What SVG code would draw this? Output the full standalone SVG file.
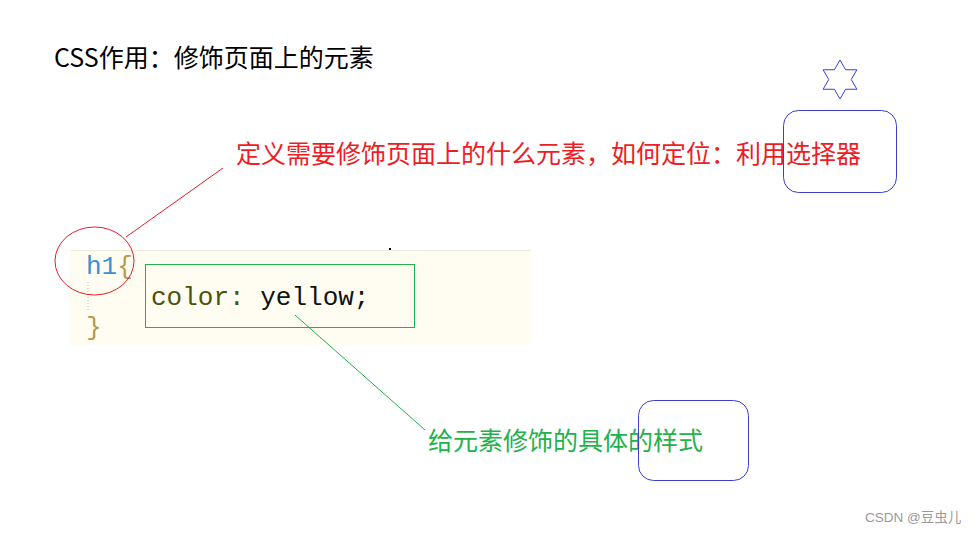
<svg xmlns="http://www.w3.org/2000/svg" width="979" height="534" viewBox="0 0 979 534">
<style>
.cjk{font-family:"Noto Sans CJK SC","Noto Sans",sans-serif}
.mono{font-family:"Liberation Mono","Courier New",monospace;font-size:26px}
.blue{fill:none;stroke:#3a3fd0;stroke-width:1}
</style>
<rect width="979" height="534" fill="#ffffff"/>
<text class="cjk" x="54" y="67" font-size="25" fill="#000">CSS作用：修饰页面上的元素</text>
<g id="code">
<rect x="70" y="250" width="461" height="95" fill="#fffcf2"/>
<line x1="70" y1="250.5" x2="531" y2="250.5" stroke="#efe9d6" stroke-width="1"/>
<line x1="88" y1="282" x2="88" y2="312" stroke="#bbbbbb" stroke-width="1" stroke-dasharray="1,2"/>
<rect x="389" y="248" width="2" height="2" fill="#000"/>
<text class="mono" x="86" y="274"><tspan fill="#3b8fd6">h1</tspan><tspan fill="#b39a4a">{</tspan></text>
<text class="mono" x="151" y="305"><tspan fill="#4a5210">color:</tspan><tspan fill="#111"> yellow;</tspan></text>
<text class="mono" x="86" y="335" fill="#b39a4a">}</text>
</g>
<g id="selector-ellipse">
<ellipse cx="94.5" cy="261" rx="39.5" ry="34" fill="none" stroke="#e0202a" stroke-width="1"/>
</g>
<g id="decl-box">
<rect x="145.5" y="264.5" width="269" height="63" fill="none" stroke="#22b14c" stroke-width="1"/>
</g>
<g id="connectors">
<line x1="126" y1="237" x2="223" y2="168" stroke="#e0202a" stroke-width="1"/>
<line x1="295" y1="315" x2="425" y2="430" stroke="#22b14c" stroke-width="1"/>
</g>
<g id="label-selector">
<text class="cjk" x="236" y="163" font-size="25" fill="#ee1c25">定义需要修饰页面上的什么元素，如何定位：利用选择器</text>
</g>
<g id="label-style">
<text class="cjk" x="428" y="450" font-size="25" fill="#22b14c">给元素修饰的具体的样式</text>
</g>
<g id="star">
<polygon class="blue" points="840,60 845.63,69.75 856.89,69.75 851.26,79.5 856.89,89.25 845.63,89.25 840,99 834.37,89.25 823.11,89.25 828.74,79.5 823.11,69.75 834.37,69.75"/>
</g>
<g id="box1"><rect class="blue" x="783.5" y="110.5" width="113" height="82" rx="15"/></g>
<g id="box2"><rect class="blue" x="638.5" y="400.5" width="110" height="80" rx="15"/></g>
<text x="865" y="522" font-family="Liberation Sans,Noto Sans CJK SC,sans-serif" font-size="13.5" fill="#999">CSDN @豆虫儿</text>
</svg>
